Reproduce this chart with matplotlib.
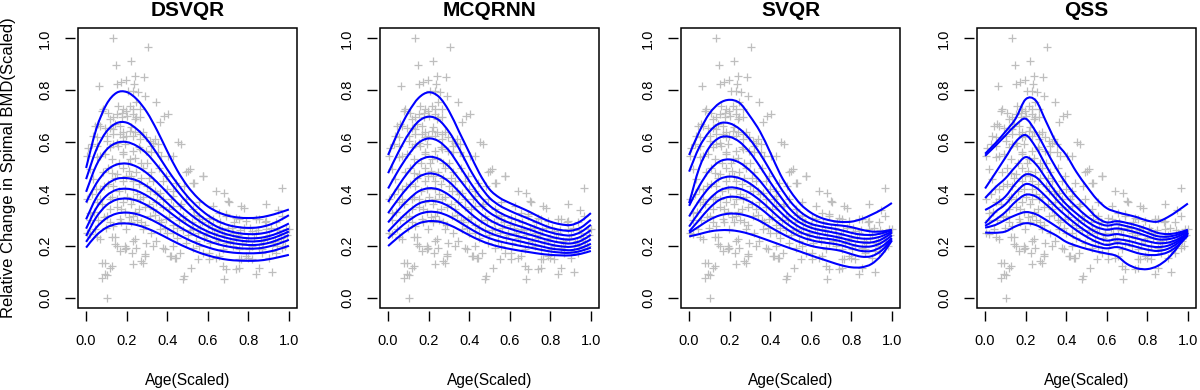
import matplotlib
matplotlib.use("Agg")
import matplotlib.pyplot as plt
from matplotlib.patches import Rectangle, PathPatch
from matplotlib.path import Path

plt.rcParams['font.family'] = ['Liberation Sans', 'DejaVu Sans']

# ---------------- data ----------------
titles = ["DSVQR", "MCQRNN", "SVQR", "QSS"]
tick_vals = [0.0, 0.2, 0.4, 0.6, 0.8, 1.0]
tick_labels = ["0.0", "0.2", "0.4", "0.6", "0.8", "1.0"]
xlabel = "Age(Scaled)"
ylabel = "Relative Change in Spimal BMD(Scaled)"

# observed (age, bmd) points, identical in every panel
obs_points = [
    (0.134, 1.000), (0.306, 0.965), (0.221, 0.911), (0.145, 0.898), (0.064, 0.815), (0.150, 0.824),
    (0.170, 0.830), (0.196, 0.840), (0.243, 0.853), (0.286, 0.851), (0.235, 0.824), (0.257, 0.794),
    (0.208, 0.798), (0.289, 0.776), (0.343, 0.753), (0.384, 0.701), (0.404, 0.708), (0.248, 0.753),
    (0.216, 0.740), (0.183, 0.727), (0.232, 0.727), (0.265, 0.727), (0.085, 0.727), (0.109, 0.714),
    (0.154, 0.708), (0.175, 0.695), (0.265, 0.695), (0.363, 0.676), (0.069, 0.663), (0.118, 0.656),
    (0.134, 0.631), (0.167, 0.631), (0.199, 0.624), (0.240, 0.637), (0.036, 0.624), (0.052, 0.586),
    (0.101, 0.605), (0.150, 0.598), (0.265, 0.611), (0.330, 0.598), (0.453, 0.601), (0.469, 0.592),
    (0.011, 0.579), (0.183, 0.560), (0.232, 0.566), (0.297, 0.566), (0.355, 0.560), (0.404, 0.547),
    (0.069, 0.547), (0.126, 0.534), (0.208, 0.521), (0.273, 0.521), (0.428, 0.547), (0.502, 0.489),
    (0.510, 0.495), (0.575, 0.470), (0.534, 0.444), (0.020, 0.495), (0.036, 0.457), (0.085, 0.483),
    (0.150, 0.476), (0.199, 0.470), (0.248, 0.483), (0.322, 0.483), (0.395, 0.470), (0.444, 0.444),
    (0.485, 0.431), (0.134, 0.431), (0.069, 0.418), (0.232, 0.418), (0.314, 0.412), (0.363, 0.405),
    (0.641, 0.412), (0.681, 0.405), (0.698, 0.373), (0.003, 0.380), (0.052, 0.367), (0.118, 0.380),
    (0.183, 0.367), (0.265, 0.380), (0.346, 0.367), (0.428, 0.354), (0.493, 0.380), (0.559, 0.367),
    (0.624, 0.354), (0.706, 0.367), (0.763, 0.354), (0.779, 0.345), (0.889, 0.360), (0.967, 0.421),
    (0.946, 0.338), (0.020, 0.328), (0.101, 0.315), (0.167, 0.302), (0.232, 0.315), (0.314, 0.315),
    (0.395, 0.302), (0.477, 0.315), (0.559, 0.302), (0.624, 0.302), (0.690, 0.315), (0.755, 0.302),
    (0.853, 0.302), (0.967, 0.315), (0.044, 0.264), (0.134, 0.277), (0.199, 0.264), (0.281, 0.264),
    (0.363, 0.264), (0.428, 0.251), (0.526, 0.264), (0.592, 0.251), (0.657, 0.264), (0.722, 0.251),
    (0.820, 0.257), (0.886, 0.264), (1.000, 0.264), (0.003, 0.251), (0.069, 0.225), (0.142, 0.232),
    (0.150, 0.200), (0.191, 0.200), (0.240, 0.225), (0.297, 0.212), (0.330, 0.200), (0.379, 0.193),
    (0.428, 0.200), (0.461, 0.174), (0.493, 0.212), (0.559, 0.200), (0.608, 0.174), (0.673, 0.187),
    (0.722, 0.200), (0.788, 0.161), (0.853, 0.193), (0.918, 0.180), (0.967, 0.193), (0.191, 0.187),
    (0.224, 0.174), (0.289, 0.167), (0.436, 0.154), (0.551, 0.148), (0.641, 0.154), (0.796, 0.154),
    (0.869, 0.174), (0.935, 0.174), (0.232, 0.129), (0.281, 0.135), (0.093, 0.135), (0.126, 0.122),
    (0.077, 0.077), (0.101, 0.086), (0.105, 0.000), (0.485, 0.083), (0.477, 0.071), (0.518, 0.116),
    (0.681, 0.071), (0.690, 0.109), (0.739, 0.109), (0.755, 0.116), (0.837, 0.090), (0.853, 0.116),
    (0.918, 0.099), (0.673, 0.122), (0.420, 0.161), (0.444, 0.154), (0.608, 0.148), (0.755, 0.148),
    (0.527, 0.444), (0.494, 0.483), (0.576, 0.470),
    (0.030, 0.400), (0.040, 0.330), (0.060, 0.300), (0.080, 0.360), (0.090, 0.430), (0.100, 0.270),
    (0.110, 0.500), (0.120, 0.340), (0.130, 0.390), (0.140, 0.460), (0.150, 0.350), (0.160, 0.410),
    (0.160, 0.520), (0.170, 0.290), (0.180, 0.450), (0.190, 0.330), (0.200, 0.390), (0.210, 0.490),
    (0.220, 0.290), (0.220, 0.360), (0.230, 0.450), (0.240, 0.540), (0.250, 0.400), (0.250, 0.300),
    (0.260, 0.340), (0.270, 0.460), (0.280, 0.390), (0.290, 0.280), (0.300, 0.430), (0.310, 0.360),
    (0.320, 0.250), (0.330, 0.450), (0.340, 0.320), (0.350, 0.400), (0.370, 0.290), (0.380, 0.350),
    (0.400, 0.250), (0.410, 0.310), (0.430, 0.280), (0.450, 0.230), (0.460, 0.300), (0.480, 0.260),
    (0.500, 0.240), (0.520, 0.290), (0.540, 0.220), (0.560, 0.270), (0.580, 0.230), (0.600, 0.280),
    (0.610, 0.210), (0.630, 0.250), (0.650, 0.220), (0.660, 0.290), (0.680, 0.240), (0.700, 0.270),
    (0.710, 0.220), (0.730, 0.290), (0.750, 0.240), (0.770, 0.210), (0.780, 0.270), (0.800, 0.230),
    (0.820, 0.200), (0.840, 0.250), (0.860, 0.220), (0.880, 0.290), (0.900, 0.240), (0.920, 0.210),
    (0.940, 0.260), (0.960, 0.230), (0.980, 0.200), (0.990, 0.240), (0.120, 0.580), (0.180, 0.620),
    (0.220, 0.660), (0.260, 0.580), (0.300, 0.520), (0.140, 0.670), (0.200, 0.700), (0.240, 0.690),
    (0.280, 0.640), (0.320, 0.560), (0.360, 0.500), (0.380, 0.450), (0.400, 0.420), (0.420, 0.380),
    (0.093, 0.656), (0.134, 0.650), (0.167, 0.663), (0.183, 0.637), (0.216, 0.643), (0.232, 0.624),
    (0.265, 0.630), (0.297, 0.618), (0.314, 0.605), (0.338, 0.611), (0.101, 0.624), (0.052, 0.618),
    (0.134, 0.592), (0.158, 0.585), (0.191, 0.592), (0.265, 0.573), (0.322, 0.585), (0.355, 0.592),
    (0.371, 0.547), (0.028, 0.592), (0.003, 0.547), (0.052, 0.541), (0.093, 0.553), (0.183, 0.553),
    (0.216, 0.534), (0.232, 0.798), (0.077, 0.720), (0.158, 0.740), (0.175, 0.714), (0.199, 0.720),
    (0.232, 0.708), (0.248, 0.695), (0.118, 0.688), (0.134, 0.695), (0.044, 0.663), (0.060, 0.669),
    (0.077, 0.135), (0.118, 0.116), (0.093, 0.090), (0.273, 0.141), (0.289, 0.161), (0.142, 0.206),
    (0.126, 0.232), (0.167, 0.180), (0.199, 0.193), (0.232, 0.219), (0.248, 0.193), (0.346, 0.219),
    (0.020, 0.244), (0.052, 0.232), (0.428, 0.392), (0.461, 0.354), (0.526, 0.341), (0.559, 0.315),
    (0.608, 0.309), (0.657, 0.328), (0.690, 0.322), (0.739, 0.309), (0.788, 0.296), (0.837, 0.302),
    (0.886, 0.296), (0.935, 0.290), (0.984, 0.264), (0.387, 0.186), (0.412, 0.161), (0.526, 0.193),
    (0.576, 0.174), (0.657, 0.161), (0.755, 0.186), (0.804, 0.186), (0.869, 0.186), (0.943, 0.199),
    (0.902, 0.154), (0.820, 0.148), (0.763, 0.148),
    (0.020, 0.300), (0.050, 0.420), (0.070, 0.380), (0.090, 0.310), (0.110, 0.440), (0.120, 0.290),
    (0.130, 0.480), (0.150, 0.380), (0.170, 0.340), (0.180, 0.500), (0.190, 0.420), (0.210, 0.310),
    (0.220, 0.470), (0.230, 0.380), (0.240, 0.330), (0.260, 0.440), (0.270, 0.290), (0.280, 0.500),
    (0.290, 0.350), (0.310, 0.460), (0.330, 0.340), (0.340, 0.410), (0.360, 0.300), (0.380, 0.380),
    (0.390, 0.270), (0.410, 0.340), (0.430, 0.410), (0.450, 0.270), (0.470, 0.360), (0.490, 0.300),
    (0.510, 0.260), (0.530, 0.320), (0.550, 0.250), (0.570, 0.290), (0.590, 0.240), (0.620, 0.270),
    (0.640, 0.230), (0.670, 0.260), (0.690, 0.210), (0.720, 0.270), (0.740, 0.230), (0.760, 0.260),
    (0.790, 0.220), (0.810, 0.270), (0.830, 0.230), (0.850, 0.260), (0.870, 0.210), (0.890, 0.230),
    (0.910, 0.270), (0.930, 0.220), (0.950, 0.250), (0.970, 0.220),
]
age = [p[0] for p in obs_points]
bmd = [p[1] for p in obs_points]

# fitted quantile curves, evaluated on this age grid
grid = [0.00, 0.05, 0.10, 0.15, 0.20, 0.25, 0.30, 0.35, 0.40, 0.45, 0.50,
        0.55, 0.60, 0.65, 0.70, 0.75, 0.80, 0.85, 0.90, 0.95, 1.00]

dsvqr = [
    [0.500, 0.650, 0.745, 0.790, 0.793, 0.765, 0.715, 0.645, 0.565, 0.490, 0.430, 0.385, 0.352, 0.330, 0.316, 0.309, 0.307, 0.309, 0.316, 0.327, 0.340],
    [0.457, 0.570, 0.640, 0.673, 0.675, 0.650, 0.610, 0.555, 0.495, 0.440, 0.390, 0.350, 0.318, 0.295, 0.280, 0.272, 0.269, 0.271, 0.280, 0.296, 0.318],
    [0.408, 0.510, 0.570, 0.597, 0.600, 0.585, 0.555, 0.510, 0.460, 0.410, 0.365, 0.325, 0.295, 0.272, 0.258, 0.249, 0.245, 0.246, 0.253, 0.267, 0.286],
    [0.367, 0.440, 0.490, 0.513, 0.517, 0.505, 0.480, 0.445, 0.405, 0.365, 0.330, 0.300, 0.275, 0.256, 0.243, 0.234, 0.229, 0.230, 0.237, 0.250, 0.266],
    [0.302, 0.385, 0.435, 0.458, 0.461, 0.452, 0.430, 0.400, 0.365, 0.330, 0.300, 0.275, 0.255, 0.240, 0.229, 0.221, 0.217, 0.218, 0.225, 0.238, 0.255],
    [0.266, 0.345, 0.393, 0.416, 0.420, 0.412, 0.393, 0.367, 0.337, 0.307, 0.280, 0.258, 0.240, 0.225, 0.214, 0.207, 0.203, 0.204, 0.211, 0.224, 0.241],
    [0.238, 0.310, 0.356, 0.378, 0.382, 0.374, 0.356, 0.332, 0.305, 0.278, 0.255, 0.235, 0.219, 0.206, 0.197, 0.191, 0.189, 0.190, 0.197, 0.208, 0.223],
    [0.215, 0.270, 0.306, 0.324, 0.328, 0.322, 0.308, 0.289, 0.267, 0.245, 0.225, 0.208, 0.194, 0.183, 0.176, 0.172, 0.171, 0.172, 0.177, 0.187, 0.200],
    [0.193, 0.240, 0.270, 0.284, 0.286, 0.280, 0.267, 0.250, 0.230, 0.210, 0.192, 0.176, 0.163, 0.153, 0.146, 0.143, 0.142, 0.143, 0.148, 0.156, 0.165],
]
mcqrnn = [
    [0.550, 0.640, 0.715, 0.770, 0.792, 0.775, 0.720, 0.640, 0.560, 0.480, 0.418, 0.385, 0.365, 0.348, 0.330, 0.310, 0.293, 0.283, 0.280, 0.295, 0.326],
    [0.480, 0.560, 0.630, 0.680, 0.698, 0.685, 0.640, 0.575, 0.500, 0.435, 0.385, 0.355, 0.335, 0.318, 0.302, 0.285, 0.270, 0.261, 0.258, 0.270, 0.300],
    [0.421, 0.490, 0.550, 0.597, 0.614, 0.603, 0.567, 0.510, 0.450, 0.395, 0.355, 0.328, 0.310, 0.295, 0.280, 0.265, 0.252, 0.243, 0.240, 0.253, 0.281],
    [0.369, 0.430, 0.485, 0.527, 0.543, 0.535, 0.505, 0.458, 0.408, 0.362, 0.328, 0.305, 0.288, 0.275, 0.262, 0.248, 0.236, 0.227, 0.224, 0.235, 0.260],
    [0.326, 0.380, 0.428, 0.465, 0.479, 0.472, 0.447, 0.408, 0.366, 0.328, 0.300, 0.280, 0.266, 0.254, 0.243, 0.231, 0.220, 0.212, 0.209, 0.219, 0.242],
    [0.290, 0.337, 0.378, 0.410, 0.422, 0.417, 0.396, 0.364, 0.329, 0.298, 0.274, 0.257, 0.245, 0.235, 0.225, 0.215, 0.205, 0.198, 0.196, 0.205, 0.225],
    [0.255, 0.296, 0.333, 0.362, 0.373, 0.369, 0.352, 0.325, 0.296, 0.270, 0.250, 0.236, 0.226, 0.217, 0.208, 0.199, 0.190, 0.185, 0.183, 0.191, 0.208],
    [0.228, 0.264, 0.296, 0.321, 0.331, 0.328, 0.314, 0.292, 0.268, 0.246, 0.229, 0.217, 0.208, 0.200, 0.193, 0.185, 0.178, 0.174, 0.173, 0.180, 0.193],
    [0.199, 0.233, 0.263, 0.286, 0.295, 0.293, 0.281, 0.262, 0.241, 0.222, 0.207, 0.196, 0.188, 0.181, 0.175, 0.169, 0.165, 0.163, 0.163, 0.169, 0.180],
]
svqr = [
    [0.550, 0.640, 0.710, 0.750, 0.763, 0.750, 0.700, 0.640, 0.560, 0.475, 0.410, 0.360, 0.328, 0.308, 0.297, 0.292, 0.293, 0.303, 0.320, 0.340, 0.365],
    [0.486, 0.580, 0.640, 0.672, 0.672, 0.650, 0.610, 0.555, 0.490, 0.425, 0.370, 0.330, 0.305, 0.290, 0.282, 0.278, 0.272, 0.262, 0.255, 0.255, 0.262],
    [0.364, 0.500, 0.580, 0.617, 0.620, 0.600, 0.560, 0.505, 0.445, 0.390, 0.340, 0.305, 0.285, 0.275, 0.268, 0.260, 0.250, 0.243, 0.242, 0.248, 0.260],
    [0.354, 0.430, 0.490, 0.525, 0.533, 0.520, 0.490, 0.450, 0.400, 0.355, 0.315, 0.288, 0.270, 0.260, 0.253, 0.245, 0.235, 0.228, 0.228, 0.237, 0.255],
    [0.313, 0.375, 0.425, 0.457, 0.467, 0.460, 0.440, 0.410, 0.370, 0.330, 0.295, 0.270, 0.255, 0.245, 0.238, 0.230, 0.220, 0.213, 0.213, 0.225, 0.250],
    [0.274, 0.330, 0.380, 0.413, 0.425, 0.420, 0.403, 0.375, 0.340, 0.305, 0.275, 0.252, 0.238, 0.230, 0.225, 0.217, 0.205, 0.197, 0.198, 0.212, 0.240],
    [0.255, 0.300, 0.345, 0.377, 0.389, 0.386, 0.370, 0.345, 0.313, 0.282, 0.255, 0.235, 0.222, 0.214, 0.209, 0.202, 0.190, 0.180, 0.180, 0.197, 0.230],
    [0.250, 0.275, 0.300, 0.317, 0.324, 0.322, 0.312, 0.295, 0.272, 0.250, 0.230, 0.213, 0.200, 0.192, 0.187, 0.180, 0.168, 0.158, 0.160, 0.182, 0.225],
    [0.236, 0.245, 0.255, 0.260, 0.260, 0.255, 0.245, 0.232, 0.218, 0.204, 0.190, 0.177, 0.163, 0.150, 0.137, 0.125, 0.117, 0.117, 0.130, 0.165, 0.220],
]
qss = [
    [0.555, 0.595, 0.640, 0.690, 0.765, 0.760, 0.680, 0.600, 0.550, 0.485, 0.430, 0.380, 0.345, 0.330, 0.320, 0.310, 0.297, 0.293, 0.310, 0.335, 0.363],
    [0.547, 0.585, 0.625, 0.665, 0.690, 0.640, 0.570, 0.500, 0.440, 0.390, 0.350, 0.310, 0.290, 0.295, 0.288, 0.278, 0.265, 0.250, 0.245, 0.250, 0.262],
    [0.421, 0.480, 0.540, 0.600, 0.627, 0.580, 0.510, 0.445, 0.390, 0.350, 0.315, 0.290, 0.278, 0.283, 0.275, 0.265, 0.250, 0.237, 0.235, 0.243, 0.258],
    [0.384, 0.425, 0.460, 0.505, 0.542, 0.515, 0.460, 0.405, 0.360, 0.325, 0.295, 0.272, 0.262, 0.267, 0.260, 0.250, 0.237, 0.225, 0.225, 0.235, 0.255],
    [0.338, 0.360, 0.390, 0.440, 0.475, 0.465, 0.425, 0.380, 0.340, 0.305, 0.275, 0.252, 0.240, 0.245, 0.238, 0.228, 0.218, 0.210, 0.212, 0.225, 0.250],
    [0.286, 0.330, 0.360, 0.405, 0.438, 0.425, 0.390, 0.350, 0.315, 0.283, 0.255, 0.232, 0.220, 0.225, 0.220, 0.210, 0.200, 0.195, 0.200, 0.218, 0.248],
    [0.277, 0.300, 0.330, 0.370, 0.397, 0.390, 0.360, 0.325, 0.290, 0.260, 0.235, 0.215, 0.203, 0.210, 0.205, 0.195, 0.185, 0.180, 0.188, 0.210, 0.245],
    [0.270, 0.280, 0.300, 0.318, 0.330, 0.322, 0.300, 0.275, 0.250, 0.228, 0.210, 0.197, 0.190, 0.195, 0.185, 0.172, 0.165, 0.165, 0.175, 0.200, 0.240],
    [0.251, 0.250, 0.255, 0.275, 0.287, 0.280, 0.260, 0.240, 0.215, 0.200, 0.188, 0.178, 0.170, 0.160, 0.130, 0.113, 0.110, 0.122, 0.150, 0.195, 0.250],
]
panels = [dsvqr, mcqrnn, svqr, qss]


def curve_path(xs, ys):
    """Smooth (Catmull-Rom style Bezier) path through the given points."""
    pts = list(zip(xs, ys))
    n = len(pts)
    verts = [pts[0]]
    codes = [Path.MOVETO]
    for i in range(n - 1):
        p0 = pts[i - 1] if i > 0 else pts[i]
        p1 = pts[i]
        p2 = pts[i + 1]
        p3 = pts[i + 2] if i + 2 < n else pts[i + 1]
        c1 = (p1[0] + (p2[0] - p0[0]) / 6, p1[1] + (p2[1] - p0[1]) / 6)
        c2 = (p2[0] - (p3[0] - p1[0]) / 6, p2[1] - (p3[1] - p1[1]) / 6)
        verts += [c1, c2, p2]
        codes += [Path.CURVE4] * 3
    return Path(verts, codes)


# ---------------- figure ----------------
W, H = 1200, 390
fig = plt.figure(figsize=(W / 100, H / 100), dpi=100)
lefts = [78, 380, 681, 977]
ax_w, ax_b, ax_h = 219, 82, 280

for i, (title, curves) in enumerate(zip(titles, panels)):
    ax = fig.add_axes([lefts[i] / W, ax_b / H, ax_w / W, ax_h / H])
    ax.plot(age, bmd, linestyle='none', marker='+', markersize=5.8,
            markeredgewidth=0.9, color='#bebebe', zorder=1)
    for c in curves:
        ax.add_patch(PathPatch(curve_path(grid, c), fill=False, edgecolor='#0000ff',
                               lw=1.5, zorder=2))
    ax.set_xlim(-0.04, 1.04)
    ax.set_ylim(-0.04, 1.04)
    for s in ['left', 'bottom']:
        ax.spines[s].set_position(('outward', 2))
        ax.spines[s].set_visible(False)
    for s in ['top', 'right']:
        ax.spines[s].set_visible(False)
    ax.add_patch(Rectangle((0, 0), 1, 1, transform=ax.transAxes, fill=False,
                           lw=1.1, edgecolor='black', clip_on=False, zorder=5))
    ax.tick_params(axis='both', direction='out', length=7, width=1.0,
                   labelsize=10.5, colors='black')
    ax.tick_params(axis='x', pad=9.5)
    ax.tick_params(axis='y', pad=9.5)
    ax.set_xticks(tick_vals)
    ax.set_xticklabels(tick_labels)
    ax.set_yticks(tick_vals)
    ax.set_yticklabels(tick_labels, rotation=90, va='center', ha='right')
    cx = (lefts[i] + ax_w / 2) / W
    fig.text(cx, 1 - 16 / H, title, ha='center', va='baseline',
             fontsize=15, fontweight='bold')
    fig.text(cx, 1 - 385.5 / H, xlabel, ha='center', va='baseline', fontsize=11.2)

fig.text(8.5 / W, 1 - 168 / H, ylabel, rotation=90, ha='center', va='center',
         fontsize=12)

fig.savefig('out.png', dpi=100)
